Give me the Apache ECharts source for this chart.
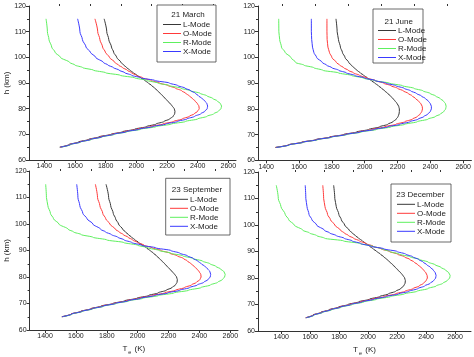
<!DOCTYPE html>
<html><head><meta charset="utf-8">
<script src="https://cdn.jsdelivr.net/npm/echarts@6/dist/echarts.min.js"></script>
<style>html,body{margin:0;padding:0;background:#fff}#c{width:474px;height:357px}</style>
</head><body><div id="c"></div>
<script>
// ---- data ----
const heights = [65,66,67,68,69,70,71,72,73,74,75,76,77,78,79,80,81,82,83,84,85,86,87,88,89,90,91,92,93,94,95,96,97,98,100,102,104,107,110,115];
const modes = ['L-Mode','O-Mode','R-Mode','X-Mode'];
const panelTitles = ['21 March','21 June','23 September','23 December'];
const xTickLabels = [1400,1600,1800,2000,2200,2400,2600];
const xMinorTicks = [1300,1500,1700,1900,2100,2300,2500];

const march_L = [1500,1560,1622,1688,1755,1835,1910,1990,2065,2128,2180,2218,2240,2250,2252,2247,2235,2220,2204,2188,2172,2155,2138,2120,2100,2078,2055,2030,2005,1980,1958,1937,1918,1900,1872,1852,1838,1820,1807,1790];
const march_O = [1505,1566,1630,1697,1766,1842,1922,2005,2090,2172,2242,2300,2345,2378,2400,2410,2408,2398,2383,2365,2345,2322,2295,2255,2208,2152,2095,2042,2000,1968,1940,1910,1883,1860,1825,1798,1780,1762,1748,1730];
const march_R = [1510,1572,1638,1706,1778,1856,1940,2030,2128,2228,2320,2400,2460,2505,2535,2552,2556,2548,2528,2498,2460,2415,2352,2290,2215,2140,2070,1990,1895,1800,1720,1650,1600,1565,1505,1470,1448,1430,1420,1411];
const march_X = [1505,1568,1634,1702,1773,1850,1932,2018,2105,2192,2268,2330,2380,2420,2447,2462,2465,2460,2447,2428,2405,2385,2355,2318,2270,2215,2120,2030,1970,1925,1888,1850,1815,1785,1735,1700,1672,1648,1632,1617];

const june_L = [1455,1535,1615,1700,1785,1870,1950,2025,2090,2140,2172,2192,2203,2209,2211,2211,2207,2198,2186,2172,2157,2140,2122,2103,2083,2062,2040,2017,1995,1973,1953,1935,1918,1903,1880,1864,1852,1840,1832,1825];
const june_O = [1458,1538,1620,1705,1790,1878,1962,2045,2120,2190,2245,2290,2320,2338,2348,2352,2350,2342,2328,2310,2290,2265,2235,2200,2160,2115,2065,2015,1970,1932,1900,1872,1848,1828,1800,1785,1776,1771,1770,1770];
const june_R = [1462,1543,1627,1713,1800,1890,1980,2072,2160,2245,2320,2385,2430,2462,2482,2493,2496,2492,2480,2460,2432,2398,2355,2300,2230,2150,2060,1990,1920,1840,1745,1690,1630,1580,1550,1515,1493,1482,1477,1476];
const june_X = [1460,1540,1623,1708,1795,1883,1970,2058,2140,2215,2275,2325,2360,2385,2400,2406,2406,2400,2388,2370,2345,2315,2280,2240,2190,2130,2065,2000,1940,1888,1842,1800,1768,1742,1707,1690,1682,1677,1675,1675];

const sept_L = [1508,1568,1630,1695,1762,1840,1915,1995,2070,2132,2185,2222,2245,2255,2257,2252,2240,2224,2208,2191,2175,2158,2140,2122,2102,2080,2057,2032,2007,1983,1961,1940,1921,1903,1876,1857,1842,1825,1812,1795];
const sept_O = [1510,1570,1634,1700,1769,1845,1925,2008,2093,2175,2245,2303,2348,2381,2403,2411,2409,2399,2384,2366,2346,2323,2296,2256,2208,2152,2095,2042,2000,1967,1938,1907,1880,1856,1820,1793,1774,1755,1740,1726];
const sept_R = [1515,1576,1642,1710,1782,1860,1945,2036,2135,2236,2330,2410,2472,2518,2548,2563,2567,2559,2538,2507,2468,2420,2357,2292,2215,2140,2068,2000,1910,1800,1710,1635,1585,1550,1490,1455,1435,1418,1409,1404];
const sept_X = [1510,1572,1637,1705,1776,1853,1935,2021,2108,2196,2273,2336,2387,2428,2455,2470,2473,2468,2455,2436,2412,2390,2360,2322,2272,2215,2118,2025,1962,1912,1872,1830,1792,1760,1710,1672,1645,1625,1613,1605];

const dec_L = [1568,1618,1672,1730,1795,1862,1935,2010,2080,2140,2190,2225,2245,2255,2257,2252,2240,2224,2206,2188,2170,2150,2130,2108,2085,2060,2035,2010,1985,1960,1935,1912,1890,1870,1838,1815,1798,1780,1770,1762];
const dec_O = [1570,1622,1677,1737,1802,1872,1948,2028,2110,2188,2255,2310,2352,2382,2400,2409,2407,2398,2383,2365,2343,2318,2288,2250,2203,2147,2090,2035,1985,1940,1900,1865,1835,1810,1770,1740,1720,1702,1693,1687];
const dec_R = [1575,1628,1686,1748,1815,1890,1972,2060,2155,2250,2338,2412,2470,2515,2545,2563,2566,2556,2535,2503,2462,2415,2355,2290,2215,2150,2095,2030,1945,1830,1700,1645,1595,1550,1490,1452,1428,1398,1380,1366];
const dec_X = [1572,1625,1681,1742,1808,1880,1958,2040,2125,2210,2283,2343,2390,2428,2452,2466,2469,2463,2450,2430,2405,2380,2348,2308,2260,2200,2110,2020,1950,1890,1835,1780,1735,1698,1645,1612,1592,1578,1570,1566];

const panelData = [
  [march_L, march_O, march_R, march_X],
  [june_L, june_O, june_R, june_X],
  [sept_L, sept_O, sept_R, sept_X],
  [dec_L, dec_O, dec_R, dec_X]
];

// ---- style / layout ----
const colors = ['#383838', '#ff3a3a', '#5ef05e', '#3a3aff'];
const FONT = 'Liberation Sans, Arial, sans-serif';
const panels = [
  {grid:{left:29, top:6, width:207, height:154}, xMin:1300, xMax:2650, yName:true, xName:false,
   box:{x:157, y:5, w:59, h:57}, titleX:188, titleY:15, legLeft:163, legTop:20},
  {grid:{left:258, top:6, width:215.5, height:154.3}, xMin:1350, xMax:2650, yName:false, xName:false,
   box:{x:373, y:9, w:50, h:54}, titleX:398.7, titleY:21.7, legLeft:378, legTop:26},
  {grid:{left:29.6, top:171, width:208.4, height:159}, xMin:1300, xMax:2650, yName:true, xName:true,
   box:{x:165.7, y:178.3, w:64.3, h:56.7}, titleX:197, titleY:190, legLeft:170, legTop:194.8},
  {grid:{left:258, top:172, width:213, height:159.3}, xMin:1240, xMax:2710, yName:false, xName:true,
   box:{x:391, y:184, w:60, h:58}, titleX:420.3, titleY:195, legLeft:397, legTop:199.8}
];

const grid = [], xAxis = [], yAxis = [], series = [], legend = [], graphic = [];
panels.forEach((p, i) => {
  grid.push(Object.assign({containLabel:false}, p.grid));
  xAxis.push({
    type:'value', gridIndex:i, min:p.xMin, max:p.xMax,
    axisLine:{show:true, onZero:false, lineStyle:{color:'#333', width:1}},
    axisTick:{show:true, length:3, customValues:xTickLabels, lineStyle:{color:'#333'}},
    axisLabel:{customValues:xTickLabels, formatter:v => String(v), fontSize:7, color:'#222', margin:3, fontFamily:FONT},
    splitLine:{show:false},
    name: p.xName ? '{a|T}{b|e}{a| (K)}' : '',
    nameLocation:'middle', nameGap:13,
    nameTextStyle:{rich:{a:{fontSize:8, color:'#222', fontFamily:FONT}, b:{fontSize:5.5, color:'#222', fontFamily:FONT, padding:[6,1,0,1]}}}
  });
  xAxis.push({
    type:'value', gridIndex:i, min:p.xMin, max:p.xMax,
    axisLine:{show:false}, axisLabel:{show:false}, splitLine:{show:false},
    axisTick:{show:true, length:2, customValues:xMinorTicks.filter(v=>v>p.xMin && v<p.xMax), lineStyle:{color:'#333'}}
  });
  yAxis.push({
    type:'value', gridIndex:i, min:60, max:120, interval:10,
    axisLine:{show:true, onZero:false, lineStyle:{color:'#333', width:1}},
    axisTick:{show:true, length:3, lineStyle:{color:'#333'}},
    minorTick:{show:true, splitNumber:2, length:2, lineStyle:{color:'#333'}},
    axisLabel:{formatter:v => String(v), fontSize:7, color:'#222', margin:3, fontFamily:FONT},
    splitLine:{show:false}, minorSplitLine:{show:false},
    name: p.yName ? 'h (km)' : '', nameLocation:'middle', nameGap:17, nameRotate:90,
    nameTextStyle:{fontSize:8, color:'#222', fontFamily:FONT}
  });
  panelData[i].forEach((arr, k) => {
    series.push({
      type:'line', name:modes[k], xAxisIndex:i*2, yAxisIndex:i,
      data: heights.map((h, j) => [arr[j], h]),
      showSymbol:false, smooth:0.3, smoothMonotone:'y',
      lineStyle:{color:colors[k], width:1}, itemStyle:{color:colors[k]},
      silent:true, animation:false
    });
  });
  legend.push({
    orient:'vertical', left:p.legLeft, top:p.legTop, data:modes, itemGap:0,
    icon:'rect', itemWidth:18, itemHeight:1, padding:0,
    textStyle:{fontSize:8, color:'#222', fontFamily:FONT, lineHeight:9, padding:[0,0,0,-3]},
    selectedMode:false
  });
  graphic.push({type:'rect', z:1, shape:{x:p.box.x, y:p.box.y, width:p.box.w, height:p.box.h},
    style:{fill:'#fff', stroke:'#444', lineWidth:0.8}});
  graphic.push({type:'text', z:2, x:p.titleX, y:p.titleY,
    style:{text:panelTitles[i], fontSize:8, fill:'#222', fontFamily:FONT, align:'center', verticalAlign:'middle'}});
});

const chart = echarts.init(document.getElementById('c'), null, {renderer:'canvas'});
chart.setOption({animation:false, backgroundColor:'#fff', grid, xAxis, yAxis, series, legend, graphic});
</script>
</body></html>
